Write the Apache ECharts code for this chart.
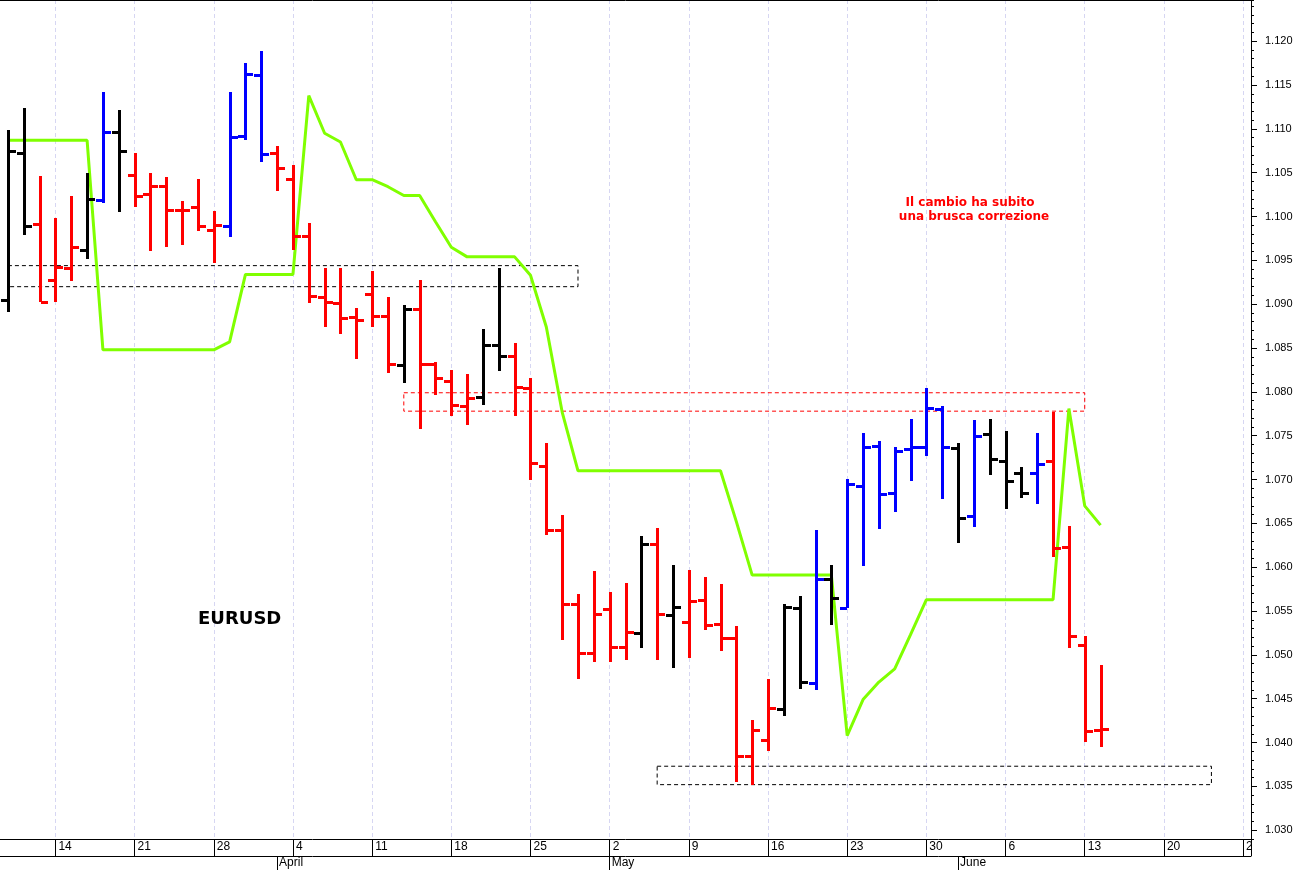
<!DOCTYPE html>
<html>
<head>
<meta charset="utf-8">
<title>EURUSD</title>
<script src="https://cdn.jsdelivr.net/npm/echarts@6/dist/echarts.min.js"></script>
<style>
  html, body { margin: 0; padding: 0; background: #fff; }
  #chart { width: 1298px; height: 870px; }
</style>
</head>
<body>
<div id="chart"></div>
<script>
// sedute giornaliere (mese-giorno), fino alla fine della griglia
const dates = [
  '03-09', '03-10', '03-11', '03-14', '03-15', '03-16', '03-17', '03-18', '03-21', '03-22',
  '03-23', '03-24', '03-25', '03-28', '03-29', '03-30', '03-31',
  '04-01', '04-04', '04-05', '04-06', '04-07', '04-08', '04-11', '04-12', '04-13', '04-14',
  '04-15', '04-18', '04-19', '04-20', '04-21', '04-22', '04-25', '04-26', '04-27', '04-28', '04-29',
  '05-02', '05-03', '05-04', '05-05', '05-06', '05-09', '05-10', '05-11', '05-12', '05-13',
  '05-16', '05-17', '05-18', '05-19', '05-20', '05-23', '05-24', '05-25', '05-26', '05-27',
  '05-30', '05-31',
  '06-01', '06-02', '06-03', '06-06', '06-07', '06-08', '06-09', '06-10', '06-13', '06-14',
  '06-15', '06-16', '06-17', '06-20', '06-21', '06-22', '06-23', '06-24', '06-27'
];
const dayTicks = ['03-14', '03-21', '03-28', '04-04', '04-11', '04-18', '04-25', '05-02',
  '05-09', '05-16', '05-23', '05-30', '06-06', '06-13', '06-20', '06-27'];
const monthTicks = { '04-01': 'April', '05-02': 'May', '06-01': 'June' };

const opens = [
  1.0905, 1.1072, 1.0991, 1.0928, 1.0941, 1.0962, 1.1019, 1.1096, 1.1047, 1.1026,
  1.1035, 1.1007, 1.1011, 1.0985, 1.0989, 1.1092, 1.1161, 1.1072, 1.1043, 1.0978,
  1.0908, 1.0901, 1.0885, 1.0912, 1.0886, 1.0831, 1.0895, 1.0832, 1.0812, 1.0784,
  1.0794, 1.0853, 1.0841, 1.0804, 1.0716, 1.0643, 1.0558, 1.0502, 1.0552, 1.0509,
  1.0525, 1.0627, 1.0546, 1.0537, 1.0563, 1.0535, 1.0519, 1.0385, 1.0403, 1.0438,
  1.0553, 1.0468, 1.0587, 1.0553, 1.0693, 1.0738, 1.0685, 1.0735, 1.0737, 1.0781,
  1.0736, 1.0658, 1.0752, 1.0721, 1.0708, 1.0708, 1.0721, 1.0623, 1.0511, 1.0414
];
const highs = [
  1.1099, 1.1124, 1.1046, 1.0998, 1.1024, 1.1050, 1.1142, 1.1121, 1.1073, 1.1050,
  1.1045, 1.1018, 1.1043, 1.1006, 1.1142, 1.1175, 1.1189, 1.1081, 1.1059, 1.0993,
  1.0941, 1.0941, 1.0896, 1.0938, 1.0908, 1.0899, 1.0928, 1.0834, 1.0825, 1.0820,
  1.0872, 1.0941, 1.0856, 1.0816, 1.0742, 1.0660, 1.0569, 1.0596, 1.0572, 1.0582,
  1.0636, 1.0645, 1.0603, 1.0597, 1.0589, 1.0581, 1.0533, 1.0426, 1.0473, 1.0558,
  1.0567, 1.0642, 1.0603, 1.0701, 1.0753, 1.0744, 1.0737, 1.0769, 1.0805, 1.0784,
  1.0742, 1.0768, 1.0769, 1.0755, 1.0714, 1.0753, 1.0777, 1.0647, 1.0522, 1.0489
];
const lows = [
  1.0891, 1.0979, 1.0902, 1.0903, 1.0927, 1.0952, 1.1015, 1.1005, 1.1011, 1.0961,
  1.0965, 1.0967, 1.0983, 1.0947, 1.0977, 1.1087, 1.1062, 1.1029, 1.0962, 1.0901,
  1.0874, 1.0866, 1.0838, 1.0874, 1.0822, 1.0810, 1.0758, 1.0796, 1.0772, 1.0762,
  1.0785, 1.0824, 1.0772, 1.0699, 1.0637, 1.0517, 1.0473, 1.0492, 1.0492, 1.0494,
  1.0508, 1.0494, 1.0485, 1.0497, 1.0528, 1.0504, 1.0355, 1.0352, 1.0390, 1.0430,
  1.0461, 1.0460, 1.0534, 1.0553, 1.0601, 1.0644, 1.0663, 1.0698, 1.0727, 1.0678,
  1.0628, 1.0646, 1.0705, 1.0666, 1.0679, 1.0672, 1.0612, 1.0508, 1.0401, 1.0395
];
const closes = [
  1.1075, 1.0989, 1.0903, 1.0943, 1.0965, 1.1020, 1.1097, 1.1075, 1.1024, 1.1035,
  1.1007, 1.1007, 1.0989, 1.0990, 1.1091, 1.1163, 1.1071, 1.1055, 1.0978, 1.0909,
  1.0903, 1.0884, 1.0882, 1.0886, 1.0832, 1.0895, 1.0832, 1.0816, 1.0785, 1.0793,
  1.0853, 1.0841, 1.0806, 1.0719, 1.0643, 1.0558, 1.0502, 1.0547, 1.0509, 1.0526,
  1.0627, 1.0547, 1.0555, 1.0561, 1.0534, 1.0519, 1.0385, 1.0414, 1.0439, 1.0555,
  1.0469, 1.0586, 1.0565, 1.0695, 1.0737, 1.0684, 1.0733, 1.0737, 1.0782, 1.0737,
  1.0656, 1.0750, 1.0723, 1.0698, 1.0685, 1.0718, 1.0622, 1.0522, 1.0413, 1.0416
];
// k = nero, r = rosso, b = blu
const barColors = [
  'k', 'k', 'r', 'r', 'r', 'k', 'b', 'k', 'r', 'r',
  'r', 'r', 'r', 'r', 'b', 'b', 'b', 'r', 'r', 'r',
  'r', 'r', 'r', 'r', 'r', 'k', 'r', 'r', 'r', 'r',
  'k', 'k', 'r', 'r', 'r', 'r', 'r', 'r', 'r', 'r',
  'k', 'r', 'k', 'r', 'r', 'r', 'r', 'r', 'r', 'k',
  'k', 'b', 'k', 'b', 'b', 'b', 'b', 'b', 'b', 'b',
  'k', 'b', 'k', 'k', 'k', 'b', 'r', 'r', 'r', 'r'
];
const stopLine = [
  1.1087, 1.1087, 1.1087, 1.1087, 1.1087, 1.1087, 1.0848, 1.0848, 1.0848, 1.0848,
  1.0848, 1.0848, 1.0848, 1.0848, 1.0857, 1.0934, 1.0934, 1.0934, 1.0934, 1.1138,
  1.1095, 1.1085, 1.1042, 1.1042, 1.1034, 1.1024, 1.1024, 1.0994, 1.0965, 1.0954,
  1.0954, 1.0954, 1.0954, 1.0933, 1.0874, 1.0777, 1.0710, 1.0710, 1.0710, 1.0710,
  1.0710, 1.0710, 1.0710, 1.0710, 1.0710, 1.0710, 1.0652, 1.0591, 1.0591, 1.0591,
  1.0591, 1.0591, 1.0591, 1.0408, 1.0449, 1.0469, 1.0484, 1.0523, 1.0563, 1.0563,
  1.0563, 1.0563, 1.0563, 1.0563, 1.0563, 1.0563, 1.0563, 1.0781, 1.0670, 1.0648
];
// zone tratteggiate: indice seduta iniziale/finale, prezzo basso/alto
const zoneFrom = [-1, 25, 41];
const zoneTo = [36, 68, 76];
const zoneLow = [1.0920, 1.0778, 1.0352];
const zoneHigh = [1.0944, 1.0799, 1.0373];

const Y_MIN = 1.029, Y_MAX = 1.1247;
const G_LEFT = 0, G_TOP = 0, G_W = 1251, G_H = 839;
const W = 1298, H = 870;

const chart = echarts.init(document.getElementById('chart'));

const palette = { k: '#000000', r: '#ff0000', b: '#0000ff' };
const zoneColors = ['#000000', '#ff0000', '#000000'];
const axisFont = 'Liberation Sans';

// seconda griglia solo per le tacche principali (multipli di 0.005)
const pxPerUnit = G_H / (Y_MAX - Y_MIN);
const g2Top = G_TOP - (1.125 - Y_MAX) * pxPerUnit;
const g2Bottom = H - (G_TOP + (Y_MAX - 1.030) * pxPerUnit);

const ohlc = dates.slice(0, opens.length).map((d, i) => [i, opens[i], closes[i], lows[i], highs[i]]);

const option = {
  animation: false,
  backgroundColor: '#ffffff',
  grid: [
    { left: G_LEFT, top: G_TOP, width: G_W, height: G_H, outerBoundsMode: 'none' },
    { left: G_LEFT, top: g2Top, width: G_W, bottom: g2Bottom, outerBoundsMode: 'none' }
  ],
  xAxis: [
    {
      type: 'category', gridIndex: 0, data: dates, position: 'bottom', boundaryGap: true,
      axisLine: { show: true, lineStyle: { color: '#000', width: 1 } },
      axisTick: {
        show: true, alignWithLabel: true, length: 17, lineStyle: { color: '#000' },
        interval: (i, v) => dayTicks.includes(v)
      },
      axisLabel: {
        show: true, interval: (i, v) => dayTicks.includes(v),
        formatter: v => String(parseInt(v.slice(3), 10)),
        align: 'left', padding: [0, 0, 0, 3], margin: 2,
        color: '#000', fontFamily: axisFont, fontSize: 12
      },
      splitLine: {
        show: true, alignWithLabel: true, interval: (i, v) => dayTicks.includes(v),
        lineStyle: { color: '#d6d6f2', width: 1, type: [4, 3] }
      }
    },
    {
      type: 'category', gridIndex: 0, data: dates, position: 'bottom', offset: 17, boundaryGap: true,
      axisLine: { show: true, lineStyle: { color: '#000', width: 1 } },
      axisTick: {
        show: true, alignWithLabel: true, length: 14, lineStyle: { color: '#000' },
        interval: (i, v) => v in monthTicks
      },
      axisLabel: {
        show: true, interval: (i, v) => v in monthTicks,
        formatter: v => monthTicks[v] || '',
        align: 'left', padding: [0, 0, 0, 2], margin: 1,
        color: '#000', fontFamily: axisFont, fontSize: 12
      },
      splitLine: { show: false }
    },
    {
      type: 'category', gridIndex: 0, data: dates, position: 'top',
      axisLine: { show: true, lineStyle: { color: '#000', width: 1 } },
      axisTick: { show: false }, axisLabel: { show: false }, splitLine: { show: false }
    },
    { type: 'category', gridIndex: 1, data: dates, show: false }
  ],
  yAxis: [
    {
      type: 'value', gridIndex: 0, position: 'right', min: Y_MIN, max: Y_MAX, interval: 0.001,
      axisLine: { show: true, lineStyle: { color: '#000', width: 1 } },
      axisTick: { show: true, length: 3, lineStyle: { color: '#000' } },
      axisLabel: { show: false },
      splitLine: { show: false }
    },
    {
      type: 'value', gridIndex: 1, position: 'right', min: 1.030, max: 1.125, interval: 0.005,
      axisLine: { show: false },
      axisTick: { show: true, length: 6, lineStyle: { color: '#000' } },
      axisLabel: {
        show: true, showMaxLabel: false, margin: 14,
        formatter: v => v.toFixed(3),
        color: '#000', fontFamily: axisFont, fontSize: 11
      },
      splitLine: { show: false }
    }
  ],
  series: [
    {
      name: 'stop', type: 'line', xAxisIndex: 0, yAxisIndex: 0, z: 2,
      data: stopLine, symbol: 'none', silent: true,
      lineStyle: { color: '#80ff00', width: 3 },
      markArea: {
        silent: true,
        label: { show: false },
        data: zoneFrom.map((f, i) => [
          {
            xAxis: f, yAxis: zoneHigh[i],
            itemStyle: { color: 'rgba(0,0,0,0)', borderColor: zoneColors[i], borderWidth: 1, borderType: [4, 3] }
          },
          { xAxis: zoneTo[i], yAxis: zoneLow[i] }
        ])
      }
    },
    {
      name: 'EURUSD', type: 'custom', xAxisIndex: 0, yAxisIndex: 0, z: 3,
      data: ohlc, silent: true,
      renderItem: (params, api) => {
        const x = api.value(0);
        const o = api.coord([x, api.value(1)]);
        const c = api.coord([x, api.value(2)]);
        const l = api.coord([x, api.value(3)]);
        const h = api.coord([x, api.value(4)]);
        const col = palette[barColors[params.dataIndex]];
        const cx = Math.round(h[0]);
        const st = { stroke: col, lineWidth: 3 };
        return {
          type: 'group',
          children: [
            { type: 'line', shape: { x1: cx + 0.5, y1: Math.round(h[1]), x2: cx + 0.5, y2: Math.round(l[1]) }, style: st },
            { type: 'line', shape: { x1: cx - 7, y1: Math.round(o[1]) + 0.5, x2: cx, y2: Math.round(o[1]) + 0.5 }, style: st },
            { type: 'line', shape: { x1: cx + 1, y1: Math.round(c[1]) + 0.5, x2: cx + 8, y2: Math.round(c[1]) + 0.5 }, style: st }
          ]
        };
      }
    }
  ],
  graphic: [
    {
      type: 'text', left: 198, top: 610, z: 50,
      style: { text: 'EURUSD', font: 'bold 18px "DejaVu Sans"', fill: '#000' }
    },
    {
      type: 'text', x: 970, y: 203, z: 50,
      style: { text: 'Il cambio ha subito', font: 'bold 12px "DejaVu Sans"', fill: '#ff0000', align: 'center', verticalAlign: 'middle' }
    },
    {
      type: 'text', x: 974, y: 217, z: 50,
      style: { text: 'una brusca correzione', font: 'bold 12px "DejaVu Sans"', fill: '#ff0000', align: 'center', verticalAlign: 'middle' }
    },
    // l'etichetta dell'ultima settimana è tagliata dal bordo del grafico
    {
      type: 'rect', z: 100, silent: true,
      shape: { x: G_LEFT + G_W + 1, y: G_TOP + G_H + 1, width: W, height: 16 },
      style: { fill: '#ffffff' }
    },
    {
      type: 'line', z: 101, silent: true,
      shape: { x1: G_LEFT + G_W + 0.5, y1: G_TOP + G_H, x2: G_LEFT + G_W + 0.5, y2: G_TOP + G_H + 17 },
      style: { stroke: '#000', lineWidth: 1 }
    }
  ]
};

chart.setOption(option);
</script>
</body>
</html>
